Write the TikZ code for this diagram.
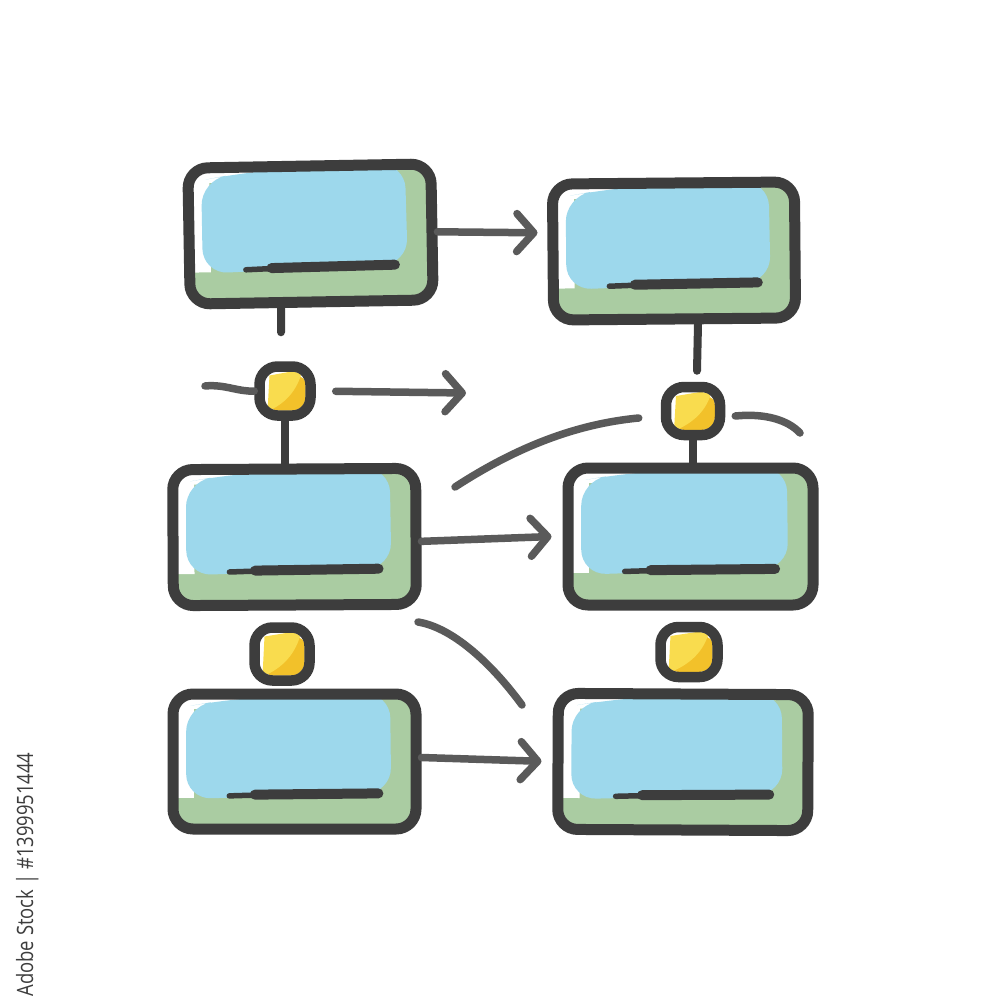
\documentclass[tikz,border=0pt]{standalone}
\usepackage{fontspec}
\setsansfont{Open Sans}
\usetikzlibrary{arrows.meta,calc}
\definecolor{ink}{HTML}{3D3D3D}
\definecolor{wire}{HTML}{5A5A5A}
\definecolor{skyb}{HTML}{9DD8EC}
\definecolor{leaf}{HTML}{AACCA2}
\definecolor{sun}{HTML}{F9DC4E}
\definecolor{sundark}{HTML}{F2C12A}
\tikzset{
  panelbox/.style={draw=ink, line width=1.1mm, rounded corners=2mm, inner sep=0pt, transform shape},
  chipbox/.style={draw=ink, line width=1.05mm, rounded corners=1.8mm, inner sep=0pt},
  stub/.style={draw=ink, line width=0.8mm, line cap=round},
  conn/.style={draw=wire, line width=0.75mm, line cap=round},
  arr/.style={conn, -{Straight Barb[length=1.7mm,width=3.8mm,round]}},
  bar/.style={draw=ink, line cap=round},
}
% name, cx, cy, w, h, rotation
\newcommand\panel[6]{%
\begin{scope}[shift={(#2,#3)},rotate=#6]
  \pgfmathsetmacro\pnlL{-#4/2+5}\pgfmathsetmacro\pnlR{#4/2-5}
  \pgfmathsetmacro\pnlT{-#5/2+5}\pgfmathsetmacro\pnlB{#5/2-5}
  \pgfmathsetmacro\pnlW{#4-10}\pgfmathsetmacro\pnlH{#5-10}
  \begin{scope}
    \clip[rounded corners=1.5mm] (\pnlL,\pnlT) rectangle (\pnlR,\pnlB);
    \fill[leaf] (\pnlL,\pnlT) rectangle (\pnlR,\pnlB);
    \fill[white] ({\pnlL-2},{\pnlT-2}) rectangle ({\pnlL+0.07*\pnlW},{\pnlT+0.79*\pnlH});
    \fill[white] ({\pnlL-2},{\pnlT-2}) rectangle ({\pnlL+0.5*\pnlW},{\pnlT+0.08*\pnlH});
    \fill[skyb, rounded corners=2.5mm]
      ({\pnlL+0.035*\pnlW},{\pnlT+0.8*\pnlH})
      -- ({\pnlL+0.035*\pnlW},{\pnlT+0.06*\pnlH})
      -- ({\pnlL+0.16*\pnlW},{\pnlT+0.02*\pnlH})
      -- ({\pnlL+0.45*\pnlW},{\pnlT-4})
      -- ({\pnlR-0.09*\pnlW},{\pnlT-6})
      -- ({\pnlR-0.085*\pnlW},{\pnlT+0.75*\pnlH})
      -- cycle;
  \end{scope}
  \node[panelbox, minimum width=#4*0.1mm, minimum height=#5*0.1mm] (#1) at (0,0) {};
  \draw[bar, line width=0.55mm] ({\pnlL+0.22*\pnlW},{\pnlT+0.775*\pnlH}) -- ({\pnlL+0.4*\pnlW},{\pnlT+0.765*\pnlH});
  \draw[bar, line width=1.0mm] ({\pnlL+0.33*\pnlW},{\pnlT+0.765*\pnlH}) -- ({\pnlL+0.86*\pnlW},{\pnlT+0.755*\pnlH});
\end{scope}}
% name, cx, cy, w, h
\newcommand\chip[5]{%
\begin{scope}[shift={(#2,#3)}]
  \pgfmathsetmacro\chpX{#4/2-5}\pgfmathsetmacro\chpY{#5/2-5}
  \begin{scope}
    \clip[rounded corners=1.3mm] (-\chpX,-\chpY) rectangle (\chpX,\chpY);
    \fill[sundark, rounded corners=1.2mm] ({-\chpX+5},{-\chpY+4}) rectangle ({\chpX+2},{\chpY+2});
    \fill[sun] ({-\chpX+5},{-\chpY+4}) -- ({\chpX-3},{-\chpY-2})
      .. controls ({\chpX-8},0) and (0,{\chpY-7}) .. ({-\chpX+3},{\chpY+1}) -- cycle;
  \end{scope}
  \node[chipbox, minimum width=#4*0.1mm, minimum height=#5*0.1mm] (#1) at (0,0) {};
\end{scope}}
\begin{document}
\begin{tikzpicture}[x=0.1mm,y=-0.1mm]
\fill[white] (0,0) rectangle (1000,1000);
\useasboundingbox (0,0) rectangle (1000,1000);

\panel{A}{310.5}{234}{243}{136}{1}
\panel{B}{674}{251}{242}{136}{0.5}
\panel{C}{294.5}{537}{243}{136}{0.3}
\panel{D}{690.5}{536.5}{245}{137}{0}
\panel{E}{294.5}{761.5}{243}{135}{0}
\panel{F}{683}{762}{250}{136}{-0.3}

\chip{S1}{285}{391}{51}{49}
\chip{S2}{693}{411}{54}{48}
\chip{S3}{282}{654}{55}{53}
\chip{S4}{689}{652}{57}{50}

% vertical links
\draw[stub] ([xshift=-0.4mm]S1.north |- A.south) -- ($(S1.north)+(-4,-29)$);
\draw[stub] (S1.south) -- (S1.south |- C.north);
\draw[stub] ([xshift=0.5mm]S2.north |- B.south) -- ($(S2.north)+(4,-11)$);
\draw[stub] (S2.south) -- (S2.south |- D.north);

% free ends
\coordinate (t0) at (205,386);
\coordinate (t1) at (466,393);
\coordinate (k1) at (455,487);
\coordinate (k2) at (800,433);
\coordinate (k3) at (418,622);
\coordinate (k4) at (522,705);

% arrows
\draw[arr] (A.east) -- ($(A.east -| B.west)+(-10,1)$);
\draw[arr, shorten <=2mm] (S1.east) -- (t1);
\draw[arr] ([yshift=-0.5mm]C.east) -- ($(D.west)+(-11,0)$);
\draw[arr] ([yshift=0.4mm]E.east) -- ($(F.west)+(-11,0)$);

% curves
\draw[conn] (t0) .. controls (225,384) and (238,392) .. (S1.west);
\draw[conn] (k1) .. controls (515,448) and (575,424) .. ($(S2.west)+(-22,7)$);
\draw[conn] ($(S2.east)+(10,5)$) .. controls (765,413) and (788,420) .. (k2);
\draw[conn] (k3) .. controls (455,628) and (495,668) .. (k4);

% side caption
\node[rotate=90, xscale=0.82, anchor=base west, inner sep=0pt, text=ink,
      font=\sffamily\fontsize{6.4pt}{7pt}\selectfont] (cap) at (33,997) {Adobe Stock | \#1399951444};
\end{tikzpicture}
\end{document}
